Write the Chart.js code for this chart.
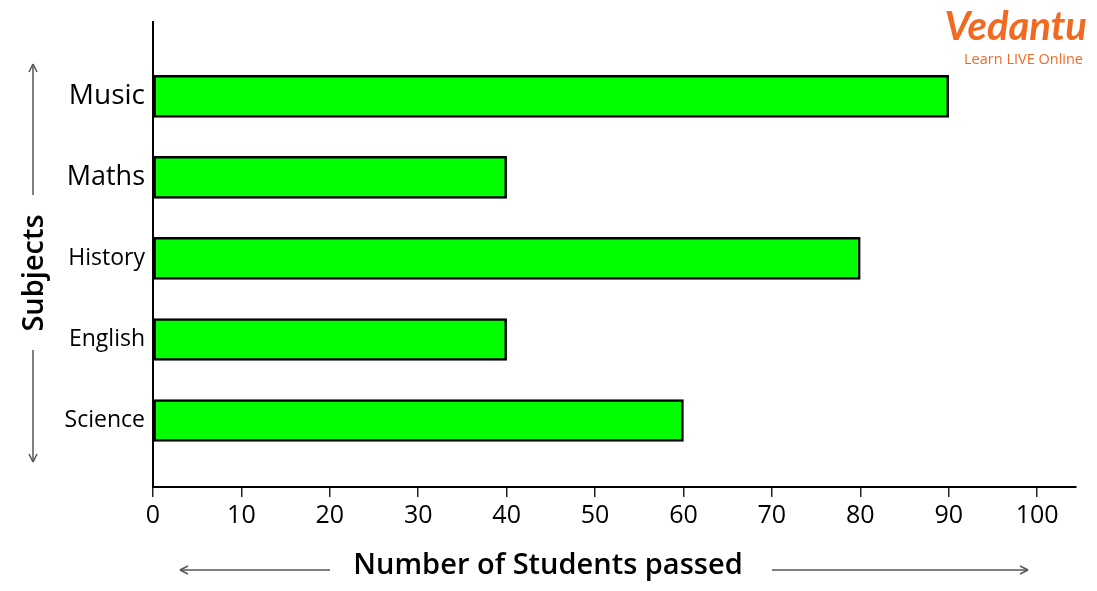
<!DOCTYPE html>
<html lang="en">
<head>
  <meta charset="UTF-8">
  <title>Number of Students passed</title>
  <script src="https://cdn.jsdelivr.net/npm/chart.js"></script>
  <style>
    body { margin: 0; background: #fff; }
    .wrap { position: relative; width: 1097px; height: 591px; }
    .brand { position: absolute; right: 10px; top: 3px; color: #f26a21; font-family: "Lato", sans-serif; font-style: italic; font-weight: 700; font-size: 40px; line-height: 44px; }
    .tag { position: absolute; right: 14px; top: 50px; color: #f26a21; font-family: "Open Sans", sans-serif; font-size: 14.5px; line-height: 18px; }
  </style>
</head>
<body>
  <div class="wrap">
    <canvas id="subjectChart" width="1097" height="591"></canvas>
    <div class="brand">Vedantu</div>
    <div class="tag">Learn LIVE Online</div>
  </div>
  <script>
    const subjects = ['Music', 'Maths', 'History', 'English', 'Science'];
    const passed = [90, 40, 80, 40, 60];
    const xTicks = [0, 10, 20, 30, 40, 50, 60, 70, 80, 90, 100];

    // bigger font for the first two labels, like the picture
    const labelSizes = [28, 27, 23, 23, 23];

    const titleFont = '600 29px "Open Sans"';

    // axis titles sit off-centre in the picture, with arrows either side
    const decorPlugin = {
      id: 'decor',
      afterDraw(chart) {
        const c = chart.ctx;
        c.save();
        c.fillStyle = '#000';
        c.font = titleFont;
        c.textAlign = 'center';
        c.textBaseline = 'middle';
        c.fillText('Number of Students passed', 548, 566);
        c.save();
        c.translate(35, 273);
        c.rotate(-Math.PI / 2);
        c.fillText('Subjects', 0, 0);
        c.restore();

        c.strokeStyle = '#555';
        c.lineWidth = 1.5;
        const line = (x1, y1, x2, y2) => { c.beginPath(); c.moveTo(x1, y1); c.lineTo(x2, y2); c.stroke(); };
        line(33, 64, 33, 195);
        line(29, 72, 33, 64); line(37, 72, 33, 64);
        line(33, 350, 33, 462);
        line(29, 454, 33, 462); line(37, 454, 33, 462);
        line(180, 570, 330, 570);
        line(188, 566, 180, 570); line(188, 574, 180, 570);
        line(772, 570, 1028, 570);
        line(1020, 566, 1028, 570); line(1020, 574, 1028, 570);
        c.restore();
      }
    };

    const ctx = document.getElementById('subjectChart').getContext('2d');
    new Chart(ctx, {
      type: 'bar',
      data: {
        datasets: [{
          data: passed.map((v, i) => ({ x: v, y: i })),
          backgroundColor: '#00ff00',
          borderColor: '#000',
          borderWidth: 2.5,
          borderSkipped: false,
          barThickness: 42
        }]
      },
      options: {
        indexAxis: 'y',
        responsive: false,
        animation: false,
        layout: { padding: { top: 18, right: 21, left: 0, bottom: 0 } },
        plugins: { legend: { display: false }, tooltip: { enabled: false } },
        scales: {
          x: {
            type: 'linear',
            min: 0,
            max: 104.4,
            afterFit(scale) { scale.height = 104; },
            afterBuildTicks(scale) { scale.ticks = xTicks.map(v => ({ value: v })); },
            ticks: {
              color: '#000',
              padding: 4,
              font: { family: 'Open Sans', size: 25 }
            },
            grid: { drawOnChartArea: false, tickLength: 10, color: '#222', lineWidth: 1.5 },
            border: { color: '#000', width: 2 }
          },
          y: {
            type: 'linear',
            reverse: true,
            offset: false,
            min: -0.92,
            max: 4.82,
            afterFit(scale) { scale.width = 153; },
            afterBuildTicks(scale) { scale.ticks = subjects.map((s, i) => ({ value: i })); },
            ticks: {
              color: '#000',
              padding: 8,
              autoSkip: false,
              callback: v => subjects[v],
              font: c => ({ family: 'Open Sans', size: labelSizes[c.index] || 23 })
            },
            grid: { offset: false, drawOnChartArea: false, drawTicks: false },
            border: { color: '#000', width: 2 }
          }
        }
      },
      plugins: [decorPlugin]
    });
  </script>
</body>
</html>
